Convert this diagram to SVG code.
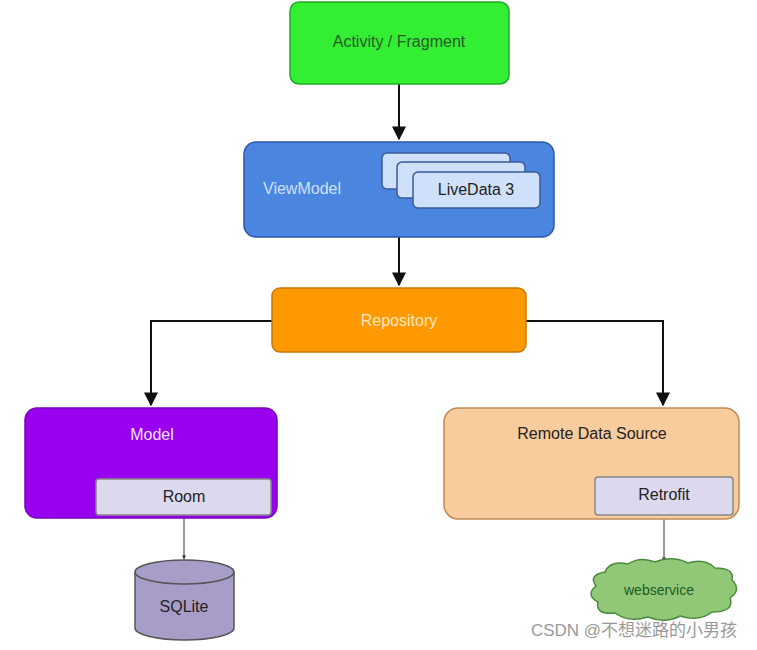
<svg xmlns="http://www.w3.org/2000/svg" width="757" height="650" viewBox="0 0 757 650">
<defs>
<marker id="ah" viewBox="0 0 10 10" refX="9" refY="5" markerWidth="7" markerHeight="7" orient="auto"><path d="M0,0L10,5L0,10z" fill="#111"/></marker>
<marker id="sa" viewBox="0 0 10 10" refX="9" refY="5" markerWidth="4" markerHeight="4" orient="auto"><path d="M0,0L10,5L0,10z" fill="#333"/></marker>
<style>
text{font-family:"Liberation Sans",Arial,sans-serif;font-size:16px;text-anchor:middle;dominant-baseline:middle}
.c{fill:none;stroke:#111;stroke-width:2}
.in{fill:#dcd8ee;stroke:#888;stroke-width:1.5}
.ld{fill:#cfe0fa;stroke:#3a5a9a;stroke-width:1.5}
</style>
</defs>
<rect width="757" height="650" fill="#fff"/>
<g id="connectors">
<path class="c" d="M399,84V139" marker-end="url(#ah)"/>
<path class="c" d="M399,237V285" marker-end="url(#ah)"/>
<path class="c" d="M272,321H151V405" marker-end="url(#ah)"/>
<path class="c" d="M526,321H663V405" marker-end="url(#ah)"/>
<path fill="none" stroke="#333" stroke-width="1" d="M184,515V559" marker-end="url(#sa)"/>
<path fill="none" stroke="#333" stroke-width="1" d="M664,515V561" marker-end="url(#sa)"/>
</g>
<g id="activity">
<rect x="290" y="2" width="219" height="82" rx="9" fill="#33ee33" stroke="#22aa22" stroke-width="1.5"/>
<text x="399" y="43" fill="#2a5a2a">Activity / Fragment</text>
</g>
<g id="viewmodel">
<rect x="244" y="142" width="310" height="95" rx="12" fill="#4a86e0" stroke="#2a5aaa" stroke-width="1.5"/>
<text x="302" y="190" fill="#cfe0fa">ViewModel</text>
<rect class="ld" x="382" y="153" width="128" height="36" rx="5"/>
<rect class="ld" x="397" y="162" width="128" height="36" rx="5"/>
<rect class="ld" x="413" y="172" width="127" height="36" rx="5"/>
<text x="476" y="191" fill="#222">LiveData 3</text>
</g>
<g id="repository">
<rect x="272" y="288" width="254" height="64" rx="8" fill="#ff9900" stroke="#cc7700" stroke-width="1.5"/>
<text x="399" y="322" fill="#ffe6c0">Repository</text>
</g>
<g id="model">
<rect x="25" y="408" width="252" height="110" rx="12" fill="#9900ee" stroke="#7700bb" stroke-width="1.5"/>
<text x="152" y="436" fill="#f0e0ff">Model</text>
<rect class="in" x="96" y="479" width="175" height="36" rx="3"/>
<text x="184" y="498" fill="#222">Room</text>
</g>
<g id="sqlite">
<path d="M135,572V628A49.5,12 0 0 0 234,628V572" fill="#a89cc8" stroke="#555" stroke-width="1.5"/>
<ellipse cx="184.5" cy="572" rx="49.5" ry="12" fill="#a89cc8" stroke="#555" stroke-width="1.5"/>
<text x="184" y="608" fill="#222">SQLite</text>
</g>
<g id="remote">
<rect x="444" y="408" width="295" height="111" rx="14" fill="#f8cc9c" stroke="#c08a5a" stroke-width="1.5"/>
<text x="592" y="435" fill="#222">Remote Data Source</text>
<rect class="in" x="595" y="477" width="138" height="38" rx="3"/>
<text x="664" y="496" fill="#222">Retrofit</text>
</g>
<g id="webservice">
<path d="M605,572Q610,560 628,564Q640,556 655,562Q672,555 688,563Q705,558 715,568Q735,568 732,580Q742,590 730,598Q735,612 712,612Q700,622 680,616Q665,624 648,617Q628,623 615,613Q595,615 598,602Q585,595 596,586Q588,575 605,572Z" fill="#90c878" stroke="#4a8a3a" stroke-width="1.5"/>
<text x="659" y="591" fill="#1e5a1e" font-size="14" style="font-size:14px">webservice</text>
</g>
<text x="634" y="632" fill="#999" style="font-family:'Liberation Sans','Noto Sans CJK SC',sans-serif;font-size:17px">CSDN @不想迷路的小男孩</text>
</svg>
